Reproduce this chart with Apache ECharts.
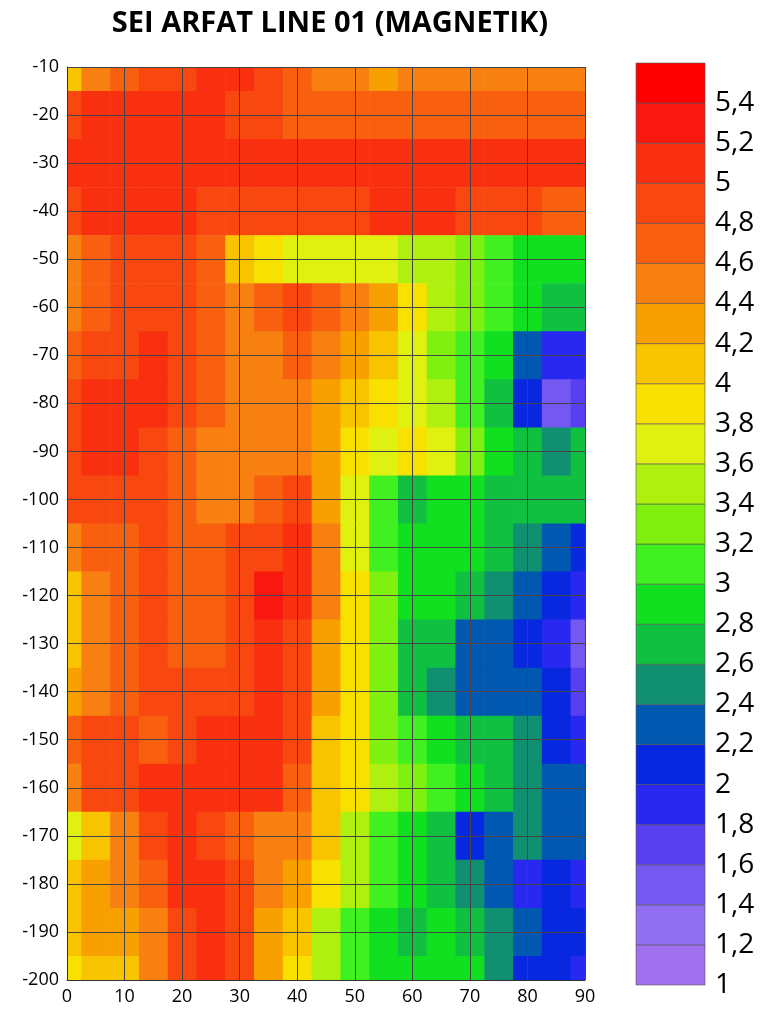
<!DOCTYPE html>
<html><head><meta charset="utf-8">
<script src="https://cdn.jsdelivr.net/npm/echarts@6/dist/echarts.min.js"></script>
<style>html,body{margin:0;background:#fff}#c{width:768px;height:1024px}</style>
</head><body><div id="c"></div>
<script>
var xs = [0,5,10,15,20,25,30,35,40,45,50,55,60,65,70,75,80,85,90];
var ys = [-10,-20,-30,-40,-50,-60,-70,-80,-90,-100,-110,-120,-130,-140,-150,-160,-170,-180,-190,-200];
var grid = [
 [4.1,4.4,4.7,4.8,4.9,5.0,5.1,4.9,4.7,4.5,4.4,4.3,4.4,4.5,4.4,4.4,4.5,4.5,4.5],
 [4.8,5.0,5.0,5.0,5.0,5.0,4.9,4.8,4.6,4.6,4.6,4.6,4.7,4.7,4.7,4.6,4.7,4.7,4.7],
 [5.0,5.1,5.1,5.0,5.0,5.0,5.0,5.0,5.1,5.1,5.1,5.0,5.0,5.0,5.0,5.1,5.1,5.1,5.1],
 [4.9,5.0,5.0,5.0,5.0,4.9,4.8,4.8,4.9,4.9,4.9,5.0,5.0,5.0,4.9,4.8,4.8,4.7,4.6],
 [4.4,4.6,4.8,4.9,4.9,4.6,4.0,3.8,3.7,3.7,3.7,3.6,3.5,3.4,3.2,3.0,2.9,2.8,2.9],
 [4.4,4.6,4.8,4.9,4.9,4.7,4.4,4.6,4.8,4.7,4.4,4.2,3.8,3.4,3.2,3.0,2.8,2.6,2.6],
 [4.6,4.8,4.9,5.0,4.8,4.6,4.4,4.5,4.6,4.4,4.2,4.0,3.6,3.2,3.0,2.8,2.2,1.8,1.8],
 [4.9,5.0,5.0,5.0,4.8,4.6,4.4,4.4,4.4,4.2,4.1,3.8,3.6,3.4,3.1,2.6,2.0,1.5,1.6],
 [4.9,5.0,5.0,4.9,4.7,4.5,4.4,4.5,4.4,4.2,3.9,3.7,3.9,3.6,3.2,2.9,2.6,2.4,2.6],
 [4.8,4.8,4.9,4.9,4.6,4.5,4.5,4.7,4.8,4.2,3.6,3.0,2.6,2.8,2.8,2.6,2.6,2.6,2.6],
 [4.4,4.6,4.7,4.8,4.6,4.6,4.8,4.9,5.0,4.4,3.6,3.0,2.8,2.9,2.8,2.6,2.4,2.2,2.1],
 [4.0,4.4,4.7,4.8,4.7,4.7,4.9,5.2,5.0,4.4,3.8,3.2,2.9,2.8,2.6,2.4,2.2,2.0,1.9],
 [4.0,4.4,4.7,4.8,4.7,4.7,4.9,5.0,4.9,4.2,3.8,3.2,2.6,2.6,2.3,2.2,2.0,1.8,1.4],
 [4.3,4.5,4.7,4.8,4.8,4.8,4.9,5.0,4.8,4.2,3.8,3.2,2.6,2.5,2.2,2.3,2.2,2.0,1.7],
 [4.6,4.8,4.8,4.7,4.9,5.0,5.0,5.0,4.8,4.1,3.8,3.3,3.0,2.8,2.6,2.6,2.4,2.0,1.9],
 [4.5,4.8,4.9,5.0,5.0,5.1,5.1,5.0,4.6,4.0,3.8,3.4,3.2,3.0,2.8,2.6,2.5,2.2,2.2],
 [3.6,4.0,4.5,4.8,5.0,4.8,4.6,4.5,4.4,4.0,3.4,3.0,2.8,2.6,2.0,2.2,2.4,2.2,2.2],
 [4.0,4.2,4.4,4.6,5.0,5.0,4.8,4.4,4.2,3.8,3.4,3.0,2.8,2.6,2.4,2.2,1.9,2.1,1.9],
 [4.1,4.2,4.3,4.5,4.9,5.0,4.8,4.2,4.0,3.4,3.0,2.8,2.6,2.8,2.6,2.4,2.2,2.0,2.0],
 [3.9,4.0,4.1,4.4,4.8,5.0,4.8,4.2,3.8,3.4,3.0,2.9,2.8,2.8,2.8,2.5,2.0,2.0,1.9]
];
var levels = [1,1.2,1.4,1.6,1.8,2,2.2,2.4,2.6,2.8,3,3.2,3.4,3.6,3.8,4,4.2,4.4,4.6,4.8,5,5.2,5.4,5.6];
var colors = ['#a070f0','#9070f0','#7458f0','#5840f0','#2828f0','#0828e0','#0058b0','#109070','#10c040','#10e020',
  '#40f020','#80f010','#b0f010','#e0f010','#f8e000','#f8c400','#f8a000','#f88010','#f86010','#f84810','#f83010','#f81810','#ff0000'];

var cells = [];
ys.forEach(function (y, i) { xs.forEach(function (x, j) { cells.push([x, y, grid[i][j]]); }); });
var bins = [];
for (var k = 0; k < colors.length; k++) bins.push([levels[k], levels[k+1], k]);

function colorOf(v) {
  for (var k = 0; k < colors.length; k++) if (v < levels[k+1]) return colors[k];
  return colors[colors.length-1];
}
function fmt(v) { return String(Math.round(v*10)/10).replace('.', ','); }

var lbl = { fontSize: 18, color: '#000', fontFamily: 'Open Sans' };
var chart = echarts.init(document.getElementById('c'));
chart.setOption({
  animation: false,
  title: { text: 'SEI ARFAT LINE 01 (MAGNETIK)', left: 325, top: 4, textAlign: 'center',
    textStyle: { fontFamily: 'Open Sans', fontWeight: 'bold', fontSize: 29, color: '#000' } },
  grid: [
    { left: 67, right: 183, top: 67, bottom: 44 },
    { left: 636, width: 69, top: 63, bottom: 39 }
  ],
  xAxis: [
    { type: 'value', min: 0, max: 90, interval: 10, gridIndex: 0, z: 10,
      axisLine: { lineStyle: { color: '#333' } }, axisTick: { show: false },
      splitLine: { lineStyle: { color: '#444', width: 1 } }, axisLabel: lbl },
    { type: 'value', min: 0, max: 1, gridIndex: 1, show: false }
  ],
  yAxis: [
    { type: 'value', min: -200, max: -10, interval: 10, gridIndex: 0, z: 10,
      axisLine: { lineStyle: { color: '#333' } }, axisTick: { show: false },
      splitLine: { lineStyle: { color: '#444', width: 1 } }, axisLabel: lbl },
    { type: 'value', min: 1, max: 5.6, interval: 0.2, gridIndex: 1, position: 'right',
      axisLine: { show: false }, axisTick: { show: false }, splitLine: { show: false },
      axisLabel: { fontSize: 28, color: '#000', fontFamily: 'Open Sans', margin: 10,
        formatter: function (v) { return v > 5.5 ? '' : fmt(v); } } }
  ],
  series: [
    { type: 'custom', xAxisIndex: 0, yAxisIndex: 0, data: cells, clip: true, z: 1,
      renderItem: function (params, api) {
        var p0 = api.coord([api.value(0) - 2.5, api.value(1) + 5]);
        var p1 = api.coord([api.value(0) + 2.5, api.value(1) - 5]);
        return { type: 'rect', shape: { x: p0[0], y: p0[1], width: p1[0]-p0[0]+0.6, height: p1[1]-p0[1]+0.6 },
          style: { fill: colorOf(api.value(2)) } };
      } },
    { type: 'custom', xAxisIndex: 1, yAxisIndex: 1, data: bins,
      renderItem: function (params, api) {
        var p0 = api.coord([0, api.value(1)]);
        var p1 = api.coord([1, api.value(0)]);
        return { type: 'rect', shape: { x: p0[0], y: p0[1], width: p1[0]-p0[0], height: p1[1]-p0[1] },
          style: { fill: colors[api.value(2)], stroke: '#555', lineWidth: 0.6 } };
      } }
  ]
});
</script></body></html>
